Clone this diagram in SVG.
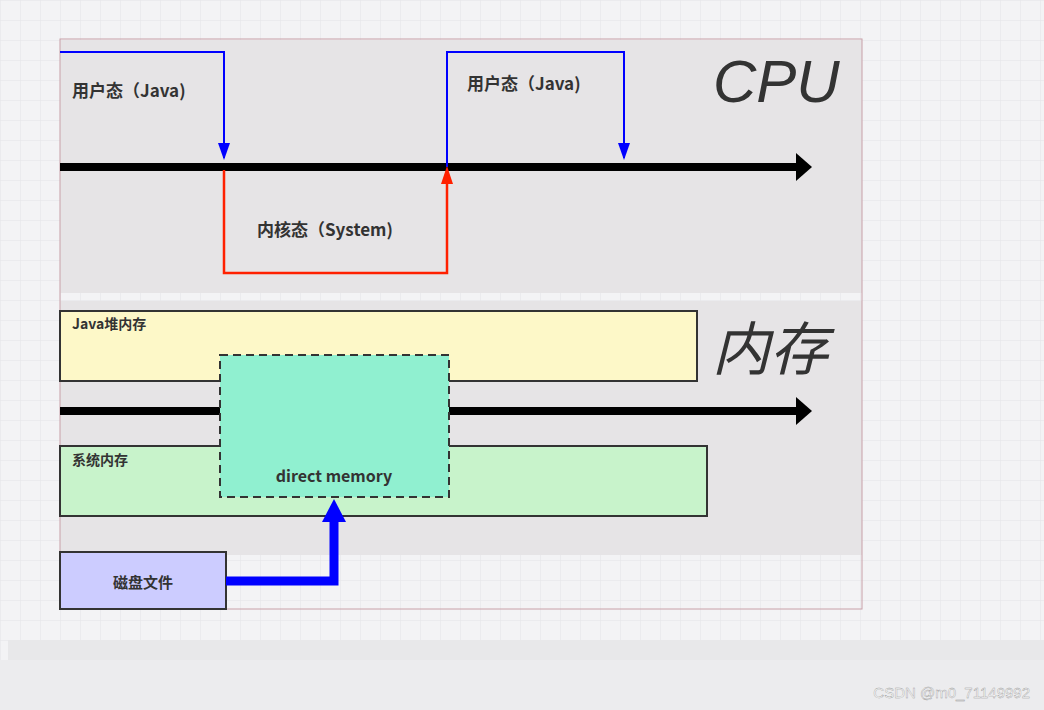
<svg xmlns="http://www.w3.org/2000/svg" width="1044" height="710" viewBox="0 0 1044 710">
<defs>
<pattern id="grid" width="20" height="20" patternUnits="userSpaceOnUse"><path d="M20 0H0V20" fill="none" stroke="#e4e4e8" stroke-width="1"/></pattern>
<style>
.t{font-family:"Noto Sans CJK SC","Liberation Sans",sans-serif;font-weight:bold;fill:#333}
.big{font-family:"Liberation Sans","Noto Sans CJK SC",sans-serif;font-style:italic;fill:#333}
.box{stroke:#333;stroke-width:2}
</style>
</defs>
<rect width="1044" height="710" fill="#f3f3f5"/>
<rect x="0" y="0" width="1044" height="660" fill="url(#grid)"/>
<rect x="8" y="640" width="1036" height="20" fill="#e8e8ea"/>
<rect x="0" y="660" width="1044" height="50" fill="#ececee"/>
<g id="cpu-panel"><rect x="60" y="40" width="802" height="253" fill="#e6e4e6"/></g>
<g id="mem-panel"><rect x="60" y="301" width="802" height="254" fill="#e6e4e6"/></g>
<rect x="60" y="39" width="802" height="570" fill="none" stroke="#c8a0a8" stroke-width="1"/>
<g id="cpu-label"><text class="big" x="713" y="102" font-size="60">CPU</text></g>
<g id="mem-label"><text class="big" x="712" y="370" font-size="58">内存</text></g>
<g id="heap"><rect class="box" x="60" y="311" width="637" height="70" fill="#fdf8c8"/><text class="t" x="72" y="329" font-size="14">Java堆内存</text></g>
<g id="sys"><rect class="box" x="60" y="446" width="647" height="70" fill="#c8f3cb"/><text class="t" x="72" y="465" font-size="14">系统内存</text></g>
<g id="connectors" fill="none">
<path d="M60 167H798" stroke="#000" stroke-width="8"/><path d="M796 153L812 167L796 181z" fill="#000"/>
<path d="M60 411H798" stroke="#000" stroke-width="8"/><path d="M796 397L812 411L796 425z" fill="#000"/>
<path d="M60 52H224V158" stroke="#0000ff" stroke-width="2"/><path d="M218 143L224 160L230 143z" fill="#0000ff"/>
<path d="M447 167V52H624V158" stroke="#0000ff" stroke-width="2"/><path d="M618 143L624 160L630 143z" fill="#0000ff"/>
<path d="M224 170V273H447V182" stroke="#ff2000" stroke-width="2.5"/><path d="M441 184L447 166L453 184z" fill="#ff2000"/>
</g>
<g id="direct"><rect x="220" y="355" width="229" height="142" fill="#90f0d0" stroke="#333" stroke-width="2" stroke-dasharray="8,5"/><text class="t" x="334" y="482" font-size="16" text-anchor="middle">direct memory</text></g>
<g id="disk"><rect class="box" x="60" y="552" width="166" height="57" fill="#ccccff"/><text class="t" x="143" y="588" font-size="15" text-anchor="middle">磁盘文件</text></g>
<g id="connectors2" fill="none">
<path d="M226 581H334V520" stroke="#0000ff" stroke-width="9"/><path d="M322 522L334 499L346 522z" fill="#0000ff"/>
</g>
<g id="labels">
<text class="t" x="72" y="97" font-size="17">用户态（Java)</text>
<text class="t" x="467" y="90" font-size="17">用户态（Java)</text>
<text class="t" x="257" y="236" font-size="17">内核态（System)</text>
</g>
<text x="1030" y="698" font-family="Liberation Sans,sans-serif" font-size="15" fill="#fff" text-anchor="end" stroke="#999" stroke-width="0.4">CSDN @m0_71149992</text>
</svg>
